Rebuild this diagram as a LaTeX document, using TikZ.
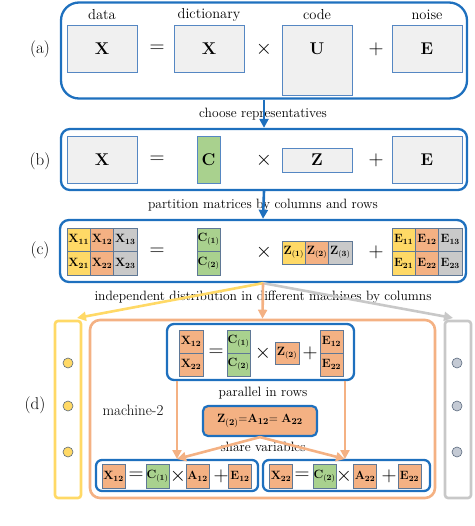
\documentclass[tikz,border=0pt]{standalone}
\usetikzlibrary{arrows.meta,calc}
\definecolor{pblue}{RGB}{30,112,190}
\definecolor{mblue}{RGB}{85,135,195}
\definecolor{lgray}{RGB}{240,240,240}
\definecolor{cellb}{RGB}{95,120,150}
\definecolor{cgreen}{RGB}{169,209,142}
\definecolor{corange}{RGB}{244,177,131}
\definecolor{cyellow}{RGB}{255,217,102}
\definecolor{cgray}{RGB}{201,201,201}
\definecolor{bgray}{RGB}{200,200,200}
\definecolor{dotb}{RGB}{90,105,125}
\definecolor{dotgray}{RGB}{196,202,212}
\begin{document}
\begin{tikzpicture}[x=1pt,y=-1pt,
  panel/.style={draw=pblue, line width=2.3pt, rounded corners=9pt, inner sep=0},
  mbox/.style={draw=mblue, line width=0.9pt, fill=lgray, inner sep=0, font=\fontsize{17}{20}\selectfont\bfseries},
  cell/.style={draw=cellb, line width=0.6pt, minimum width=23.3, minimum height=23.5, inner sep=0, font=\fontsize{11.5}{12}\selectfont},
  opsym/.style={inner sep=0, font=\fontsize{22}{24}\selectfont},
  opsymd/.style={inner sep=0, font=\fontsize{20}{22}\selectfont},
  captxt/.style={inner sep=0, font=\fontsize{13.5}{15}\selectfont},
  labtxt/.style={inner sep=0, font=\fontsize{14.5}{16}\selectfont},
  plab/.style={inner sep=0, font=\fontsize{17}{19}\selectfont},
  barrow/.style={draw=pblue, line width=2.6pt, -{Triangle[length=9pt,width=9pt]}},
  carrow/.style={line width=2.6pt, -{Triangle[length=9pt,width=9pt]}},
  dotnode/.style={circle, draw=dotb, line width=0.6pt, minimum size=10, inner sep=0},
  sidebox/.style={line width=2.6pt, rounded corners=3pt, minimum width=26, minimum height=177, inner sep=0},
  bluebox/.style={draw=pblue, line width=2.3pt, rounded corners=7pt, inner sep=0}
]
\useasboundingbox (0,0) rectangle (474,526);

% ---------------- (a) ----------------
\node[panel, rounded corners=18pt, minimum width=406, minimum height=96] (pa) at (264,50.5) {};
\node[plab] (la) at (40,49) {(a)};
\node[mbox, minimum width=70, minimum height=47] (ax) at (102,48.5) {X};
\node[mbox, minimum width=70, minimum height=47] (ad) at (209,48.5) {X};
\node[mbox, minimum width=70, minimum height=70] (au) at (317,60) {};
\node[inner sep=0, font=\fontsize{17}{20}\selectfont\bfseries] (aut) at (317,49) {U};
\node[mbox, minimum width=70, minimum height=47] (ae) at (427,48.5) {E};
\node[opsym] (aeq) at (157,49) {$=$};
\node[opsym] (atm) at (264,49) {$\times$};
\node[opsym] (apl) at (376,49) {$+$};
\node[labtxt] (tdata) at (102,15) {data};
\node[labtxt] (tdict) at (209,15) {dictionary};
\node[labtxt] (tcode) at (317,15) {code};
\node[labtxt] (tnoise) at (427,15) {noise};

% ---------------- (b) ----------------
\node[panel, minimum width=406, minimum height=61] (pb) at (264,159.5) {};
\node[plab] (lb) at (40,161) {(b)};
\node[mbox, minimum width=70, minimum height=47] (bx) at (102,159.5) {X};
\node[mbox, fill=cgreen, minimum width=23, minimum height=47] (bc) at (208.5,159.5) {C};
\node[mbox, minimum width=70, minimum height=24] (bz) at (317,160) {Z};
\node[mbox, minimum width=70, minimum height=47] (be) at (427,159.5) {E};
\node[opsym] (beq) at (157,160) {$=$};
\node[opsym] (btm) at (264,160) {$\times$};
\node[opsym] (bpl) at (376,160) {$+$};

\node[captxt] (tchoose) at (263,114) {choose representatives};
\draw[barrow] (pa.south) -- (pb.north);

% ---------------- (c) ----------------
\node[panel, minimum width=406, minimum height=62] (pc) at (263,251) {};
\node[plab] (lc) at (40,250) {(c)};
\node[cell, fill=cyellow] (x11) at (78.7,239.75) {$\mathbf{X_{11}}$};
\node[cell, fill=corange] (x12) at (102,239.75) {$\mathbf{X_{12}}$};
\node[cell, fill=cgray]   (x13) at (125.3,239.75) {$\mathbf{X_{13}}$};
\node[cell, fill=cyellow] (x21) at (78.7,263.25) {$\mathbf{X_{21}}$};
\node[cell, fill=corange] (x22) at (102,263.25) {$\mathbf{X_{22}}$};
\node[cell, fill=cgray]   (x23) at (125.3,263.25) {$\mathbf{X_{23}}$};
\node[cell, fill=cgreen] (c1) at (208.5,239.75) {$\mathbf{C_{(1)}}$};
\node[cell, fill=cgreen] (c2) at (208.5,263.25) {$\mathbf{C_{(2)}}$};
\node[cell, fill=cyellow, minimum height=23] (z1) at (293.7,252.5) {$\mathbf{Z_{(1)}}$};
\node[cell, fill=corange, minimum height=23] (z2) at (317,252.5) {$\mathbf{Z_{(2)}}$};
\node[cell, fill=cgray, minimum height=23]   (z3) at (340.3,252.5) {$\mathbf{Z_{(3)}}$};
\node[cell, fill=cyellow] (e11) at (403.7,239.75) {$\mathbf{E_{11}}$};
\node[cell, fill=corange] (e12) at (427,239.75) {$\mathbf{E_{12}}$};
\node[cell, fill=cgray]   (e13) at (450.3,239.75) {$\mathbf{E_{13}}$};
\node[cell, fill=cyellow] (e21) at (403.7,263.25) {$\mathbf{E_{21}}$};
\node[cell, fill=corange] (e22) at (427,263.25) {$\mathbf{E_{22}}$};
\node[cell, fill=cgray]   (e23) at (450.3,263.25) {$\mathbf{E_{23}}$};
\node[opsym] (ceq) at (157,252) {$=$};
\node[opsym] (ctm) at (264,252) {$\times$};
\node[opsym] (cpl) at (376,252) {$+$};

\node[captxt] (tpart) at (263,205) {partition matrices by columns and rows};
\draw[barrow] (pb.south) -- (pc.north);

% ---------------- (d) ----------------
\node[plab] (ld) at (35,405) {(d)};
\node[sidebox, draw=cyellow] (yb) at (68,409.5) {};
\node[sidebox, draw=bgray] (gb) at (458,409.5) {};
\node[draw=corange, line width=2.6pt, rounded corners=10pt, minimum width=345, minimum height=178, inner sep=0] (ob) at (262.5,409) {};

\coordinate (ytip) at (77,318);
\coordinate (gtip) at (453,318);
\node[captxt] (tindep) at (263,297) {independent distribution in different machines by columns};
\draw[carrow, draw=cyellow] (pc.south) -- (ytip);
\draw[carrow, draw=bgray] (pc.south) -- (gtip);
\draw[carrow, draw=corange] (pc.south) -- (ob.north);

\foreach \y/\n in {363/1,406/2,452/3}{
  \node[dotnode, fill=cyellow] (yd\n) at (68,\y) {};
  \node[dotnode, fill=dotgray] (gd\n) at (457,\y) {};
}

% top inner box
\node[bluebox, minimum width=187, minimum height=56] (tb) at (260.5,352) {};
\node[cell, fill=corange, minimum width=24, minimum height=23] (dx12) at (191,341.5) {$\mathbf{X_{12}}$};
\node[cell, fill=corange, minimum width=24, minimum height=23] (dx22) at (191,364.5) {$\mathbf{X_{22}}$};
\node[cell, fill=cgreen, minimum width=23, minimum height=23] (dc1) at (238.5,341.5) {$\mathbf{C_{(1)}}$};
\node[cell, fill=cgreen, minimum width=23, minimum height=23] (dc2) at (238.5,364.5) {$\mathbf{C_{(2)}}$};
\node[cell, fill=corange, minimum width=24, minimum height=22] (dz2) at (287,353) {$\mathbf{Z_{(2)}}$};
\node[cell, fill=corange, minimum width=23, minimum height=23] (de12) at (331.5,341.5) {$\mathbf{E_{12}}$};
\node[cell, fill=corange, minimum width=23, minimum height=23] (de22) at (331.5,364.5) {$\mathbf{E_{22}}$};
\node[opsymd] (deq) at (216,353) {$=$};
\node[opsymd] (dtm) at (263,353) {$\times$};
\node[opsymd] (dpl) at (310,353) {$+$};

\node[captxt] (tpar) at (263,393) {parallel in rows};
\node[inner sep=0, font=\fontsize{15}{17}\selectfont] (tmach) at (133,410) {machine-2};
\node[captxt] (tshare) at (263,447) {share variables};

\node[draw=pblue, fill=corange, line width=2.2pt, rounded corners=5pt, minimum width=114, minimum height=30, inner sep=0, font=\fontsize{12.5}{14}\selectfont] (zb) at (260,421) {$\mathbf{Z_{(2)}{=}A_{12}{=}\;A_{22}}$};

% bottom boxes
\node[bluebox, rounded corners=6pt, minimum width=162, minimum height=31] (lbx) at (177,475.5) {};
\node[bluebox, rounded corners=6pt, minimum width=167, minimum height=31] (rbx) at (346.5,475.5) {};

\coordinate (ltip) at (177,459);
\coordinate (rtip) at (345,459);
\draw[carrow, draw=corange] (tb.south -| ltip) -- (ltip);
\draw[carrow, draw=corange] (tb.south -| rtip) -- (rtip);
\draw[carrow, draw=corange] (zb.south) -- (ltip);
\draw[carrow, draw=corange] (zb.south) -- (rtip);

\node[cell, fill=corange, minimum width=23, minimum height=24] (bx12) at (113.5,476) {$\mathbf{X_{12}}$};
\node[opsymd] (beq1) at (136,476) {$=$};
\node[cell, fill=cgreen, minimum width=23, minimum height=24] (bc1) at (157.5,476) {$\mathbf{C_{(1)}}$};
\node[opsymd] (btm1) at (178,476) {$\times$};
\node[cell, fill=corange, minimum width=23, minimum height=24] (ba12) at (197.5,476) {$\mathbf{A_{12}}$};
\node[opsymd] (bpl1) at (221,476) {$+$};
\node[cell, fill=corange, minimum width=23, minimum height=24] (be12) at (240,476) {$\mathbf{E_{12}}$};

\node[cell, fill=corange, minimum width=23, minimum height=24] (bx22) at (281,476) {$\mathbf{X_{22}}$};
\node[opsymd] (beq2) at (302,476) {$=$};
\node[cell, fill=cgreen, minimum width=23, minimum height=24] (bc2) at (324.5,476) {$\mathbf{C_{(2)}}$};
\node[opsymd] (btm2) at (344,476) {$\times$};
\node[cell, fill=corange, minimum width=23, minimum height=24] (ba22) at (365,476) {$\mathbf{A_{22}}$};
\node[opsymd] (bpl2) at (389,476) {$+$};
\node[cell, fill=corange, minimum width=23, minimum height=24] (be22) at (409.5,476) {$\mathbf{E_{22}}$};
\end{tikzpicture}
\end{document}
